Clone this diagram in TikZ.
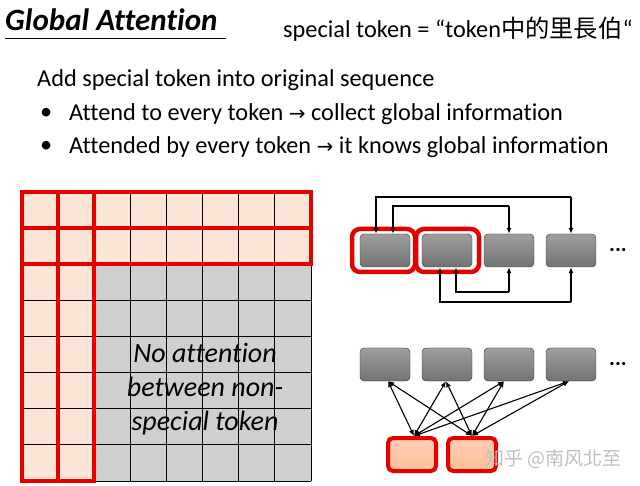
\documentclass[tikz,border=0pt]{standalone}
\usepackage{fontspec}
\setmainfont[Ligatures={NoCommon}]{Carlito}
\newfontfamily\cjkf{Noto Sans CJK TC}
\newfontfamily\symf{DejaVu Sans}
\usetikzlibrary{arrows.meta}
\newcommand{\arr}{{\symf\fontsize{20}{24}\selectfont →}}
\definecolor{rd}{HTML}{E60000}
\definecolor{pch}{HTML}{FBE5D6}
\definecolor{gc}{HTML}{D0CECE}
\begin{document}
\begin{tikzpicture}[x=1pt,y=-1pt,
  tok/.style={draw=black!80,rounded corners=4pt,top color=black!38,bottom color=black!55,minimum width=50pt,minimum height=33pt,inner sep=0pt},
  sp/.style={draw=rd,line width=4pt,rounded corners=5pt,top color=orange!30!pink!60,bottom color=orange!45!pink!70,minimum width=48pt,minimum height=33pt,inner sep=0pt},
  ring/.style={draw=rd,line width=4.5pt,rounded corners=8pt},
  ar/.style={-{Latex[length=6pt,width=5pt]},line width=1.3pt},
  dar/.style={{Latex[length=6pt,width=5pt]}-{Latex[length=6pt,width=5pt]},line width=1.1pt},
  dots/.style={font=\bfseries\fontsize{22}{24}\selectfont},
  txt/.style={anchor=west,inner sep=0pt,font=\fontsize{24.3}{28}\selectfont}]
\useasboundingbox (0,0) rectangle (640,486);
% title
\node[anchor=west,inner sep=0pt,font=\bfseries\itshape\fontsize{31}{34}\selectfont] (title) at (5,20) {Global Attention};
\draw[line width=0.8pt] (5,38) -- (226,38);
\node[txt] (sp) at (283,29) {special token = “token{\cjkf 中的里長伯}“};
\node[txt] (l1) at (37,80) {Add special token into original sequence};
\node[txt] (b1) at (40,114) {•};
\node[txt] (l2) at (69,114) {Attend to every token \arr\ collect global information};
\node[txt] (b2) at (40,147) {•};
\node[txt] (l3) at (69,147) {Attended by every token \arr\ it knows global information};
% grid
\def\c{36.1}
\fill[gc] (22,192) rectangle (311,481);
\fill[pch] (22,192) rectangle (311,264.2);
\fill[pch] (22,192) rectangle (94.2,481);
\foreach \i in {0,...,8}{
  \draw[black,line width=0.6pt] (22+\i*\c,192) -- (22+\i*\c,481);
  \draw[black,line width=0.6pt] (22,192+\i*\c) -- (311,192+\i*\c);}
\draw[rd,line width=4.5pt] (22,192) rectangle (58.1,481);
\draw[rd,line width=4.5pt] (58.1,192) rectangle (94.2,481);
\draw[rd,line width=4.5pt] (22,192) rectangle (311,228.1);
\draw[rd,line width=4.5pt] (22,228.1) rectangle (311,264.2);
\node[align=center,font=\itshape\fontsize{28}{34}\selectfont,inner sep=0pt] (na) at (205,389) {No attention\\between non-\\special token};
% top graph
\node[tok] (t1) at (385,250.5) {};
\node[tok] (t2) at (447,250.5) {};
\node[tok] (t3) at (509,250.5) {};
\node[tok] (t4) at (571,250.5) {};
\draw[ring] (352,229) rectangle (415,272);
\draw[ring] (416,229) rectangle (479,272);
\node[dots] (d1) at (618,250) {...};
\draw[ar] (571,197) -| ([xshift=-9pt]t1.north);
\draw[ar] (571,197) -- (t4.north);
\draw[ar] (509,206) -| ([xshift=8pt]t1.north);
\draw[ar] (509,206) -- (t3.north);
\draw[ar] (509,292) -| ([xshift=9pt]t2.south);
\draw[ar] (509,292) -- (t3.south);
\draw[ar] (571,302) -| ([xshift=-7pt]t2.south);
\draw[ar] (571,302) -- (t4.south);
% bottom graph
\node[tok] (u1) at (385,364.5) {};
\node[tok] (u2) at (447,364.5) {};
\node[tok] (u3) at (509,364.5) {};
\node[tok] (u4) at (571,364.5) {};
\node[dots] (d2) at (618,364) {...};
\node[sp] (s1) at (412,454.5) {};
\node[sp] (s2) at (472,454.5) {};
\foreach \u/\dx in {u1/3,u2/-1,u3/-5,u4/-2}{
  \draw[dar] ([xshift=\dx pt]\u.south) -- ([xshift=2pt]s1.north);
  \draw[dar] ([xshift=\dx pt]\u.south) -- (s2.north);}
\node[text=black!25,font=\cjkf\fontsize{19}{22}\selectfont,anchor=west,inner sep=0pt] (wm) at (485,459) {知乎 @南风北至};
\end{tikzpicture}
\end{document}
